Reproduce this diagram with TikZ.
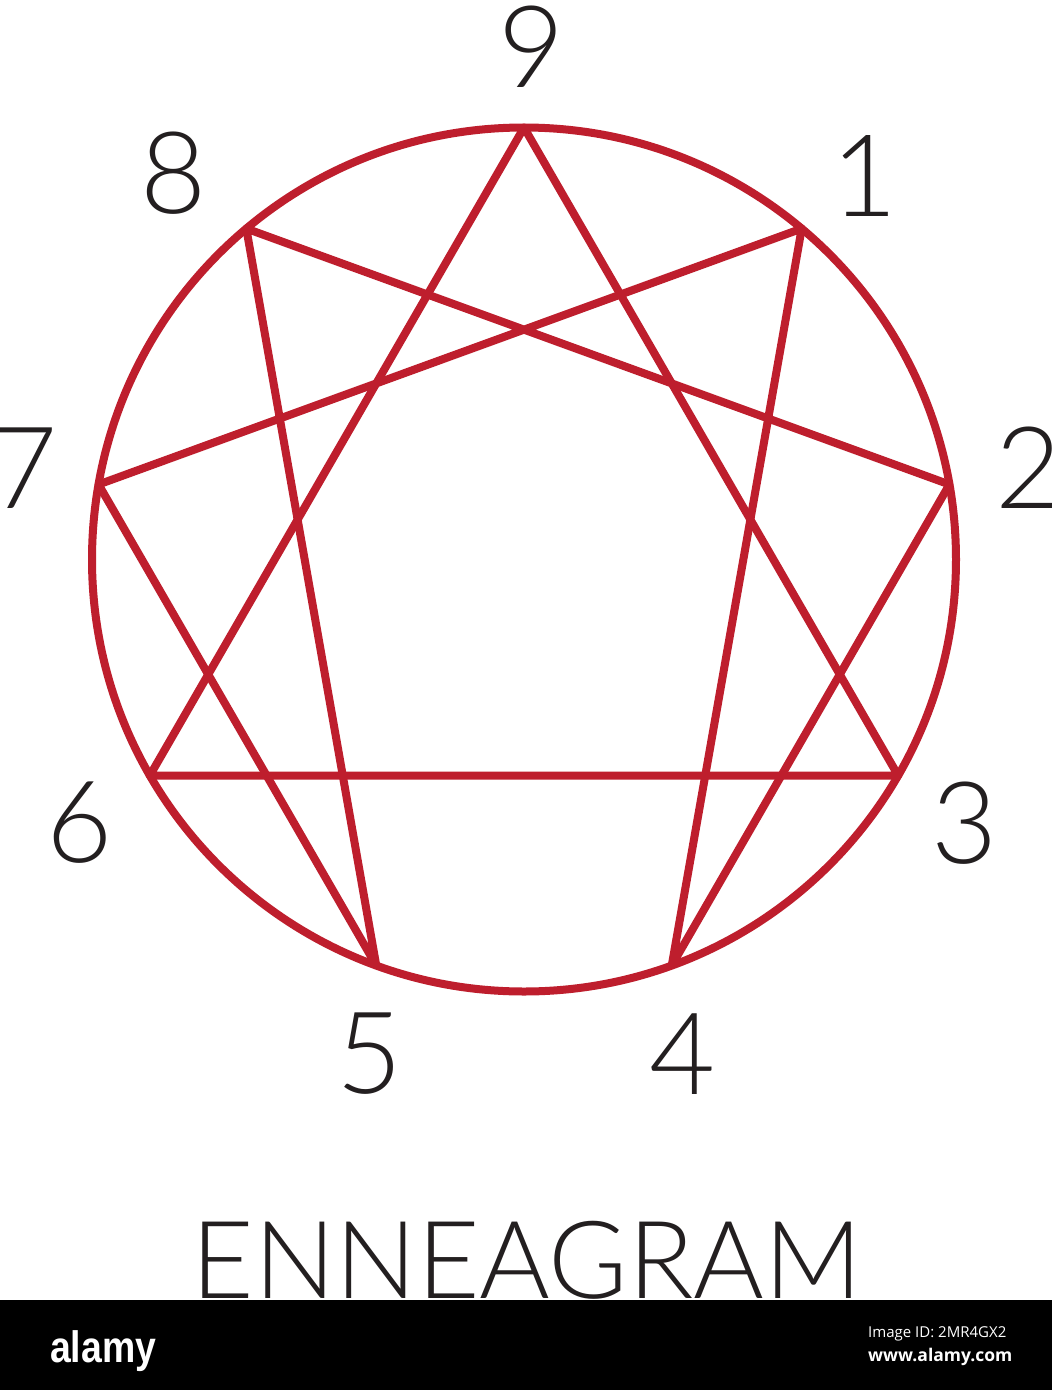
\documentclass[tikz,border=0pt]{standalone}
\usepackage{fontspec}
\newfontfamily\lab{Lato Light}
\newfontfamily\wm{Open Sans}
\newfontfamily\logo{Liberation Sans}
\definecolor{ered}{RGB}{190,30,45}
\definecolor{ink}{RGB}{35,31,32}
\tikzset{
  eline/.style={draw=ered, line width=8, line join=round},
  digit/.style={font=\lab\fontsize{114}{114}\selectfont, text=ink, inner sep=0},
  title/.style={font=\lab\fontsize{108}{108}\selectfont, text=ink, inner sep=0},
}
\begin{document}
\begin{tikzpicture}[x=1pt,y=-1pt]
\useasboundingbox (0,0) rectangle (1052,1390);
\fill[white] (0,0) rectangle (1052,1390);
\coordinate (c) at (524,559.5);
\foreach \k/\a in {9/-90,1/-50,2/-10,3/30,4/70,5/110,6/150,7/190,8/230}
  \coordinate (p\k) at ([shift={(524,559.5)}]\a:432);
\draw[eline] (c) circle (432);
\draw[eline] (p9) -- (p3) -- (p6) -- cycle;
\draw[eline] (p1) -- (p4) -- (p2) -- (p8) -- (p5) -- (p7) -- cycle;
\node[digit] (n9) at (532,47) {9};
\node[digit] (n1) at (865,176) {1};
\node[digit] (n2) at (1029,468) {2};
\node[digit] (n3) at (965,823) {3};
\node[digit] (n4) at (683,1054) {4};
\node[digit] (n5) at (370,1054) {5};
\node[digit] (n6) at (80,823) {6};
\node[digit] (n7) at (25,468) {7};
\node[digit] (n8) at (174,173) {8};
\node[title, anchor=base] (t) at (527,1298) {ENNEAGRAM};
\fill[black] (0,1300) rectangle (1052,1390);
\node[font=\logo\bfseries\fontsize{44}{44}\selectfont, text=white, inner sep=0, anchor=base west, xscale=0.85] (logo) at (50,1362) {alamy};
\node[font=\wm\fontsize{15}{15}\selectfont, text=white, inner sep=0, anchor=base west] (id) at (868,1337) {Image ID: 2MR4GX2};
\node[font=\wm\bfseries\fontsize{17.5}{17.5}\selectfont, text=white, inner sep=0, anchor=base west] (www) at (868,1361) {www.alamy.com};
\end{tikzpicture}
\end{document}
